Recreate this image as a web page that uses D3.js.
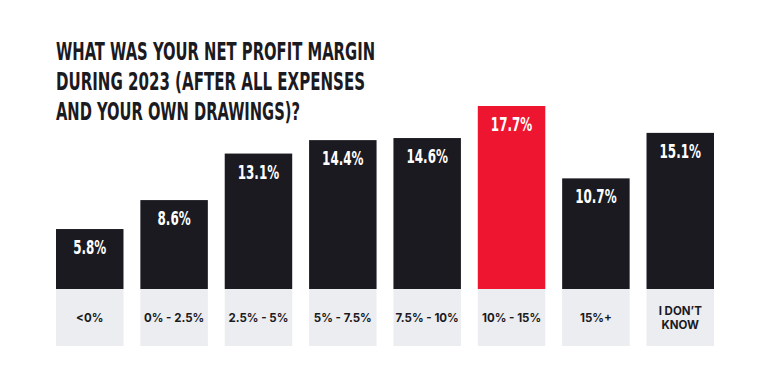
<!DOCTYPE html>
<html>
<head>
<meta charset="utf-8">
<script src="https://cdn.jsdelivr.net/npm/d3@7"></script>
<style>
  body { margin: 0; background: #fff; }
  svg { display: block; }
</style>
</head>
<body>
<svg></svg>
<script>
const categories = ["<0%", "0% - 2.5%", "2.5% - 5%", "5% - 7.5%", "7.5% - 10%", "10% - 15%", "15%+", "I DON'T KNOW"];
const values = [5.8, 8.6, 13.1, 14.4, 14.6, 17.7, 10.7, 15.1];
const highlight = "10% - 15%";
const title_lines = [
  "WHAT WAS YOUR NET PROFIT MARGIN",
  "DURING 2023 (AFTER ALL EXPENSES",
  "AND YOUR OWN DRAWINGS)?",
];

let width = 780,
  height = 366;

const dark = "#1b1a21",
  red = "#ee1530",
  grey = "#ecedf1";

let svg = d3.select("svg").attr("width", width).attr("height", height);

const baseline = 289;

let x = d3
  .scaleBand()
  .domain(categories)
  .range([56, 714])
  .paddingInner(0.2)
  .paddingOuter(0);

let y = d3.scaleLinear().domain([0, 17.7]).range([baseline, 106]);

// title, squeezed to the width of the original condensed face
const title_widths = [319, 309, 244];
svg
  .append("g")
  .selectAll("text")
  .data(title_lines)
  .enter()
  .append("text")
  .attr("x", 56)
  .attr("y", (d, i) => 60 + i * 30)
  .attr("textLength", (d, i) => title_widths[i])
  .attr("lengthAdjust", "spacingAndGlyphs")
  .style("font-family", "'DejaVu Sans Condensed', 'Liberation Sans Narrow', sans-serif")
  .style("font-weight", "bold")
  .style("font-size", "24px")
  .attr("fill", dark)
  .text((d) => d);

// bars
svg
  .append("g")
  .selectAll("rect")
  .data(categories)
  .enter()
  .append("rect")
  .attr("x", (d) => x(d))
  .attr("y", (d, i) => y(values[i]))
  .attr("width", x.bandwidth())
  .attr("height", (d, i) => baseline - y(values[i]))
  .attr("fill", (d) => (d == highlight ? red : dark));

// value labels
svg
  .append("g")
  .selectAll("text")
  .data(categories)
  .enter()
  .append("text")
  .attr(
    "transform",
    (d, i) =>
      `translate(${x(d) + x.bandwidth() / 2},${y(values[i]) + 25}) scale(0.7,1)`
  )
  .attr("text-anchor", "middle")
  .style("font-family", "'DejaVu Sans Condensed', 'Liberation Sans Narrow', sans-serif")
  .style("font-weight", "bold")
  .style("font-size", "19px")
  .attr("fill", "#fff")
  .text((d, i) => values[i].toFixed(1) + "%");

// category boxes
let cat = svg
  .append("g")
  .selectAll("g")
  .data(categories)
  .enter()
  .append("g");

cat
  .append("rect")
  .attr("x", (d) => x(d))
  .attr("y", baseline)
  .attr("width", x.bandwidth())
  .attr("height", 57)
  .attr("fill", grey);

cat
  .append("text")
  .attr("x", (d) => x(d) + x.bandwidth() / 2)
  .attr("text-anchor", "middle")
  .style("font-family", "Inter, sans-serif")
  .style("font-weight", 700)
  .style("font-size", "11.5px")
  .attr("fill", dark)
  .each(function (d) {
    let lines = d == "I DON'T KNOW" ? ["I DON\u2019T", "KNOW"] : [d];
    let t = d3.select(this);
    lines.forEach((l, i) => {
      t.append("tspan")
        .attr("x", x(d) + x.bandwidth() / 2)
        .attr("y", baseline + 33 - (lines.length - 1) * 7 + i * 14)
        .text(l);
    });
  });
</script>
</body>
</html>
